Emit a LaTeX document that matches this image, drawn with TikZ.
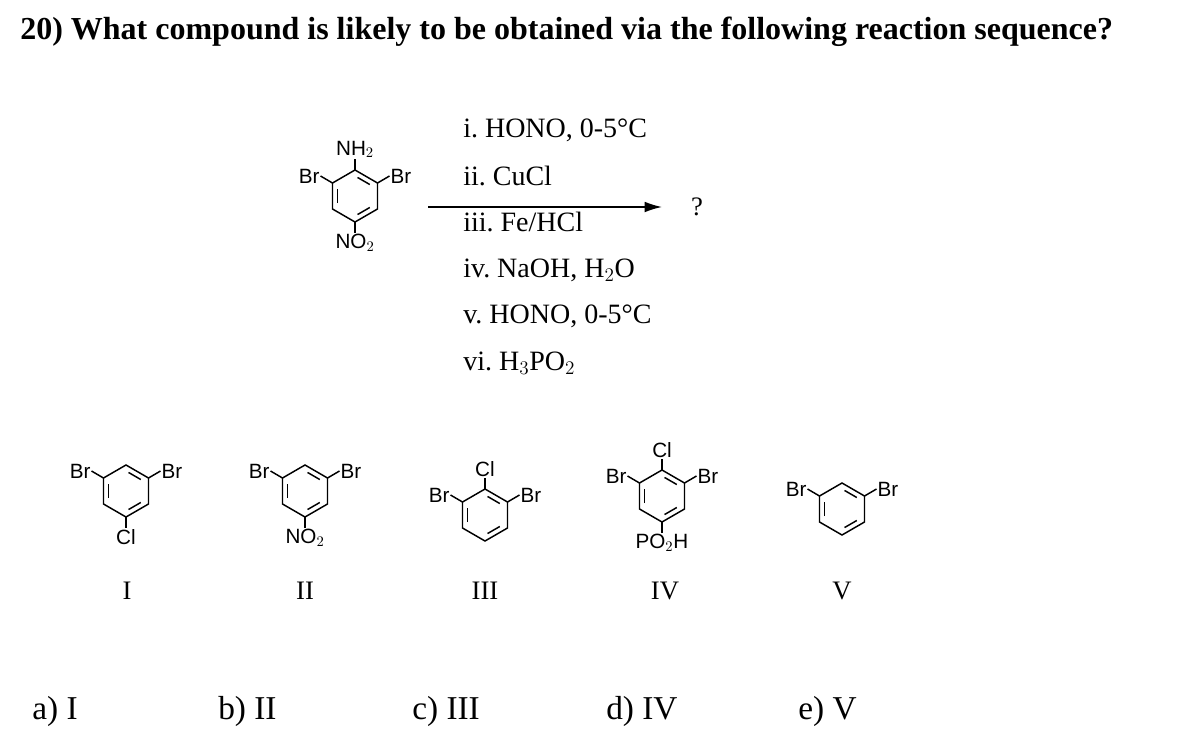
\documentclass[tikz,border=0pt]{standalone}
\usepackage{fontspec}
\setmainfont{Liberation Serif}
\newfontfamily\molf{Liberation Sans}
\usetikzlibrary{calc,arrows.meta}
\frenchspacing
\newcommand\mring[2]{%
  \coordinate (#1c) at #2;
  \coordinate (#1T) at ($(#1c)+(0,-26)$);
  \coordinate (#1UR) at ($(#1c)+(22.5,-13)$);
  \coordinate (#1LR) at ($(#1c)+(22.5,13)$);
  \coordinate (#1B) at ($(#1c)+(0,26)$);
  \coordinate (#1LL) at ($(#1c)+(-22.5,13)$);
  \coordinate (#1UL) at ($(#1c)+(-22.5,-13)$);
  \draw[bond] (#1T)--(#1UR)--(#1LR)--(#1B)--(#1LL)--(#1UL)--cycle;
  \draw[bond,shorten <=2.2pt,shorten >=2.2pt] ($(#1c)!0.77!(#1T)$)--($(#1c)!0.77!(#1UR)$);
  \draw[bond,shorten <=2.2pt,shorten >=2.2pt] ($(#1c)!0.77!(#1LL)$)--($(#1c)!0.77!(#1UL)$);
  \draw[bond,shorten <=2.2pt,shorten >=2.2pt] ($(#1c)!0.77!(#1B)$)--($(#1c)!0.77!(#1LR)$);
}
\newcommand\subUL[3]{\node[lab,anchor=east] (#2) at ($(#1UL)+(-12,-7)$) {#3}; \draw[bond] (#1UL)--(#2.east);}
\newcommand\subUR[3]{\node[lab,anchor=west] (#2) at ($(#1UR)+(12,-7)$) {#3}; \draw[bond] (#1UR)--(#2.west);}
\newcommand\subT[3]{\node[lab,anchor=south] (#2) at ($(#1T)+(0,-11)$) {#3}; \draw[bond] (#1T)--(#2.south);}
\newcommand\subB[3]{\node[lab,anchor=north] (#2) at ($(#1B)+(0,11)$) {#3}; \draw[bond] (#1B)--(#2.north);}
\begin{document}
\begin{tikzpicture}[x=0.75pt,y=-0.75pt,
  bond/.style={line width=1.1pt},
  lab/.style={font=\molf\fontsize{15.5}{16}\selectfont,inner sep=0.6pt},
  reag/.style={font=\fontsize{21}{22}\selectfont,anchor=west,inner sep=0pt},
  roman/.style={font=\fontsize{20}{22}\selectfont,inner sep=0pt},
  ans/.style={font=\fontsize{25}{26}\selectfont,inner sep=0pt,anchor=west}]
\useasboundingbox (0,0) rectangle (1180,742);
\node[anchor=west,inner sep=0pt,font=\bfseries\fontsize{24}{26}\selectfont] (title) at (20,32) {20) What compound is likely to be obtained via the following reaction sequence?};
% starting material
\mring{s}{(355,196)}
\subT{s}{snh}{NH$_2$}
\subUL{s}{sbl}{Br}
\subUR{s}{sbr}{Br}
\subB{s}{sno}{NO$_2$}
% arrow
\coordinate (a1) at (428,207);
\coordinate (a2) at (662,207);
\draw[line width=1.1pt,-{Latex[length=13pt,width=8pt]}] (a1)--(a2);
\node[roman] (q) at (697,207) {?};
\node[reag] (r1) at (463,130) {i. HONO, 0-5\textdegree C};
\node[reag] (r2) at (463,176) {ii. CuCl};
\node[reag] (r3) at (463,222) {iii. Fe/HCl};
\node[reag] (r4) at (463,270) {iv. NaOH, H$_2$O};
\node[reag] (r5) at (463,316) {v. HONO, 0-5\textdegree C};
\node[reag] (r6) at (463,363) {vi. H$_3$PO$_2$};
% I
\mring{p}{(126,491)}
\subUL{p}{pbl}{Br}\subUR{p}{pbr}{Br}\subB{p}{pcl}{Cl}
% II
\mring{q}{(305,491)}
\subUL{q}{qbl}{Br}\subUR{q}{qbr}{Br}\subB{q}{qno}{NO$_2$}
% III
\mring{t}{(485,515)}
\subUL{t}{tbl}{Br}\subUR{t}{tbr}{Br}\subT{t}{tcl}{Cl}
% IV
\mring{u}{(662,496)}
\subUL{u}{ubl}{Br}\subUR{u}{ubr}{Br}\subT{u}{ucl}{Cl}\subB{u}{upo}{PO$_2$H}
% V
\mring{v}{(842,509)}
\subUL{v}{vbl}{Br}\subUR{v}{vbr}{Br}
% roman labels
\node[roman] (n1) at (127,591) {I};
\node[roman] (n2) at (305,591) {II};
\node[roman] (n3) at (485,591) {III};
\node[roman] (n4) at (665,591) {IV};
\node[roman] (n5) at (842,591) {V};
% answers
\node[ans] (c1) at (32,711) {a) I};
\node[ans] (c2) at (218,711) {b) II};
\node[ans] (c3) at (412,711) {c) III};
\node[ans] (c4) at (606,711) {d) IV};
\node[ans] (c5) at (798,711) {e) V};
\end{tikzpicture}
\end{document}
